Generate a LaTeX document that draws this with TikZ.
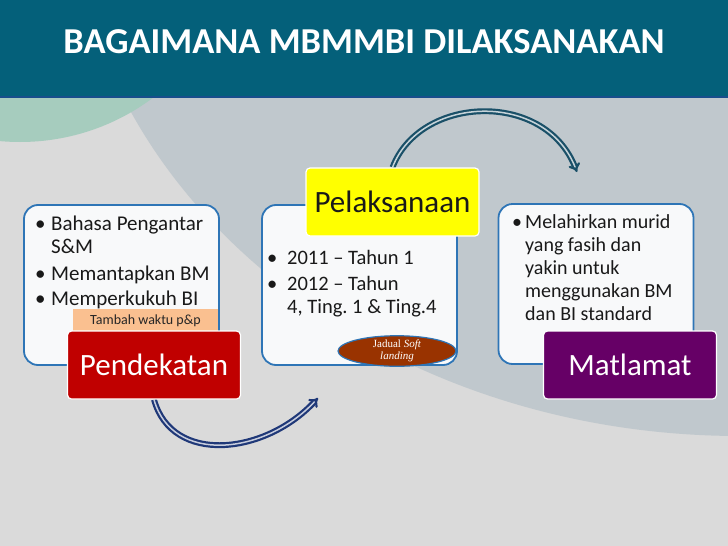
\documentclass[tikz,border=0pt]{standalone}
\usepackage{fontspec}
\setmainfont{Carlito}
\newfontfamily\jadualfont{Liberation Serif}
\usetikzlibrary{arrows.meta,shapes.geometric,backgrounds}

\definecolor{headerteal}{RGB}{4,96,122}
\definecolor{headerline}{RGB}{24,78,140}
\definecolor{bglight}{RGB}{218,218,218}
\definecolor{bgdark}{RGB}{192,200,205}
\definecolor{bggreen}{RGB}{166,204,190}
\definecolor{boxblue}{RGB}{46,117,182}
\definecolor{boxfill}{RGB}{248,249,250}
\definecolor{pendred}{RGB}{192,0,0}
\definecolor{pelyellow}{RGB}{255,255,0}
\definecolor{matpurple}{RGB}{102,0,102}
\definecolor{tambahorange}{RGB}{250,192,144}
\definecolor{jadualbrown}{RGB}{153,51,0}
\definecolor{arrownavy}{RGB}{31,56,120}
\definecolor{arrowteal}{RGB}{26,80,104}

% bullet and continuation indent
\newcommand{\bl}[1]{\makebox[#1][l]{\strut\textbullet}}
\newcommand{\cl}[1]{\hspace*{#1}}
\frenchspacing

\begin{document}
\begin{tikzpicture}[x=1pt,y=1pt,yscale=-1,
    contentbox/.style={draw=boxblue, line width=1.8pt, fill=boxfill, rounded corners=14pt, minimum width=195pt, minimum height=160pt, inner sep=0pt},
    labelbox/.style={draw=white, line width=1.2pt, rounded corners=4pt, minimum width=173pt, minimum height=68pt, inner sep=0pt, font=\fontsize{31}{36}\selectfont},
    bullettext/.style={anchor=north west, inner sep=0pt, align=left, text=black!90, font=\fontsize{#1}{23}\selectfont},
    flowarrow/.style={draw=#1, double=#1!25!white, double distance=1.5pt, line width=2.2pt, -{Implies}}]
    \useasboundingbox (0,0) rectangle (728,546);

    %Shape: Rectangle [header]
    \fill [headerteal] (0,0) rectangle (728,97);
    \draw [headerline, line width=1.5pt] (0,97) -- (728,97);
    % Text Node
    \node [anchor=base, inner sep=0pt, text=white, font=\bfseries\fontsize{36.5}{40}\selectfont] (title) at (364,53) {BAGAIMANA MBMMBI DILAKSANAKAN};

    %Shape: Rounded Rectangle [content boxes]
    \node [contentbox] (pendekatanbox) at (121.5,285) {};
    \node [contentbox] (pelaksanaanbox) at (359.5,285) {};
    \node [contentbox] (matlamatbox) at (596,284) {};

    % Text Node
    \node [bullettext=21] (pendekatanlist) at (35,214) {\bl{16pt}Bahasa Pengantar\\ \cl{16pt}S\&M\\[4.5pt]
        \bl{16pt}Memantapkan BM\\[2pt] \bl{16pt}Memperkukuh BI};
    % Text Node
    \node [bullettext=20.5] (pelaksanaanlist) at (267,248) {\bl{20pt}2011 \textendash{} Tahun 1\\[3pt]
        \bl{20pt}2012 \textendash{} Tahun\\ \cl{20pt}4, Ting. 1 \& Ting.4};
    % Text Node
    \node [bullettext=20] (matlamatlist) at (512,212) {\bl{13pt}Melahirkan murid\\ \cl{13pt}yang fasih dan\\
        \cl{13pt}yakin untuk\\ \cl{13pt}menggunakan BM\\ \cl{13pt}dan BI standard};

    %Shape: Rectangle [tambah]
    \node [fill=tambahorange, minimum width=145pt, minimum height=23pt, inner sep=0pt, text=black!85, font=\fontsize{14}{16}\selectfont] (tambah) at (145.5,320.5) {Tambah waktu p\&p};

    %Shape: Rounded Rectangle [labels]
    \node [labelbox, fill=pendred, text=white] (pendekatan) at (154,365) {Pendekatan};
    \node [labelbox, fill=pelyellow, text=black!90] (pelaksanaan) at (392.5,202) {Pelaksanaan};
    \node [labelbox, fill=matpurple, text=white] (matlamat) at (630,365) {Matlamat};

    %Shape: Ellipse [jadual]
    \node [ellipse, draw=boxblue, fill=jadualbrown, line width=1.2pt, minimum width=118pt, minimum height=26pt, inner sep=0pt, align=center, text=white, font=\jadualfont\fontsize{11}{11.5}\selectfont] (jadual) at (397,351) {Jadual \textit{Soft}\\\textit{landing}};

    \coordinate (pelaksanaanentry) at (318,398);
    \coordinate (matlamatentry) at (577,172);

    \begin{scope}[on background layer]
    %Shape: background
    \fill [bglight] (0,97) rectangle (728,546);
    \begin{scope}
        \clip (0,97) rectangle (728,546);
        \fill [bgdark] (740,-120) ellipse [x radius=670, y radius=556];
        \fill [bggreen] (20,-80) circle (222);
    \end{scope}
    %Curve Lines
    \draw [flowarrow=arrownavy] (pendekatan.south) .. controls (172,465) and (265,455) .. (pelaksanaanentry);
    %Curve Lines
    \draw [flowarrow=arrowteal] (pelaksanaan.north) .. controls (420,95) and (545,90) .. (matlamatentry);
    \end{scope}
\end{tikzpicture}
\end{document}
